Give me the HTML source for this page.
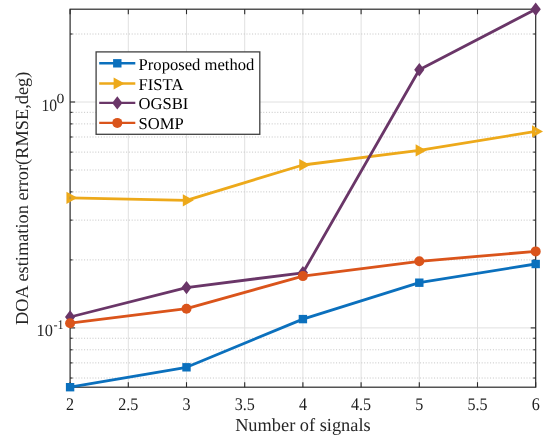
<!DOCTYPE html>
<html><head><meta charset="utf-8"><title>plot</title>
<style>html,body{margin:0;padding:0;background:#fff}body{width:550px;height:444px;overflow:hidden}text{text-rendering:geometricPrecision}</style>
</head><body>
<svg width="550" height="444" viewBox="0 0 550 444" style="display:block">
<rect width="550" height="444" fill="#fff"/>
<line x1="128.30" y1="9.2" x2="128.30" y2="387.2" stroke="#e0e0e0" stroke-width="1"/>
<line x1="186.50" y1="9.2" x2="186.50" y2="387.2" stroke="#e0e0e0" stroke-width="1"/>
<line x1="244.70" y1="9.2" x2="244.70" y2="387.2" stroke="#e0e0e0" stroke-width="1"/>
<line x1="302.90" y1="9.2" x2="302.90" y2="387.2" stroke="#e0e0e0" stroke-width="1"/>
<line x1="361.10" y1="9.2" x2="361.10" y2="387.2" stroke="#e0e0e0" stroke-width="1"/>
<line x1="419.30" y1="9.2" x2="419.30" y2="387.2" stroke="#e0e0e0" stroke-width="1"/>
<line x1="477.50" y1="9.2" x2="477.50" y2="387.2" stroke="#e0e0e0" stroke-width="1"/>
<line x1="70.1" y1="102.00" x2="535.7" y2="102.00" stroke="#e0e0e0" stroke-width="1"/>
<line x1="70.1" y1="327.90" x2="535.7" y2="327.90" stroke="#e0e0e0" stroke-width="1"/>
<line x1="70.1" y1="34.00" x2="535.7" y2="34.00" stroke="#c4c4c4" stroke-width="1" stroke-dasharray="1 1.8"/>
<line x1="70.1" y1="259.90" x2="535.7" y2="259.90" stroke="#c4c4c4" stroke-width="1" stroke-dasharray="1 1.8"/>
<line x1="70.1" y1="220.12" x2="535.7" y2="220.12" stroke="#c4c4c4" stroke-width="1" stroke-dasharray="1 1.8"/>
<line x1="70.1" y1="191.89" x2="535.7" y2="191.89" stroke="#c4c4c4" stroke-width="1" stroke-dasharray="1 1.8"/>
<line x1="70.1" y1="170.00" x2="535.7" y2="170.00" stroke="#c4c4c4" stroke-width="1" stroke-dasharray="1 1.8"/>
<line x1="70.1" y1="152.12" x2="535.7" y2="152.12" stroke="#c4c4c4" stroke-width="1" stroke-dasharray="1 1.8"/>
<line x1="70.1" y1="136.99" x2="535.7" y2="136.99" stroke="#c4c4c4" stroke-width="1" stroke-dasharray="1 1.8"/>
<line x1="70.1" y1="123.89" x2="535.7" y2="123.89" stroke="#c4c4c4" stroke-width="1" stroke-dasharray="1 1.8"/>
<line x1="70.1" y1="112.34" x2="535.7" y2="112.34" stroke="#c4c4c4" stroke-width="1" stroke-dasharray="1 1.8"/>
<line x1="70.1" y1="378.02" x2="535.7" y2="378.02" stroke="#c4c4c4" stroke-width="1" stroke-dasharray="1 1.8"/>
<line x1="70.1" y1="362.89" x2="535.7" y2="362.89" stroke="#c4c4c4" stroke-width="1" stroke-dasharray="1 1.8"/>
<line x1="70.1" y1="349.79" x2="535.7" y2="349.79" stroke="#c4c4c4" stroke-width="1" stroke-dasharray="1 1.8"/>
<line x1="70.1" y1="338.24" x2="535.7" y2="338.24" stroke="#c4c4c4" stroke-width="1" stroke-dasharray="1 1.8"/>
<rect x="70.1" y="9.2" width="465.60" height="378.00" fill="none" stroke="#2a2a2a" stroke-width="1.2"/>
<line x1="70.10" y1="387.2" x2="70.10" y2="382.2" stroke="#2a2a2a" stroke-width="1.1"/>
<line x1="70.10" y1="9.2" x2="70.10" y2="14.2" stroke="#2a2a2a" stroke-width="1.1"/>
<line x1="128.30" y1="387.2" x2="128.30" y2="382.2" stroke="#2a2a2a" stroke-width="1.1"/>
<line x1="128.30" y1="9.2" x2="128.30" y2="14.2" stroke="#2a2a2a" stroke-width="1.1"/>
<line x1="186.50" y1="387.2" x2="186.50" y2="382.2" stroke="#2a2a2a" stroke-width="1.1"/>
<line x1="186.50" y1="9.2" x2="186.50" y2="14.2" stroke="#2a2a2a" stroke-width="1.1"/>
<line x1="244.70" y1="387.2" x2="244.70" y2="382.2" stroke="#2a2a2a" stroke-width="1.1"/>
<line x1="244.70" y1="9.2" x2="244.70" y2="14.2" stroke="#2a2a2a" stroke-width="1.1"/>
<line x1="302.90" y1="387.2" x2="302.90" y2="382.2" stroke="#2a2a2a" stroke-width="1.1"/>
<line x1="302.90" y1="9.2" x2="302.90" y2="14.2" stroke="#2a2a2a" stroke-width="1.1"/>
<line x1="361.10" y1="387.2" x2="361.10" y2="382.2" stroke="#2a2a2a" stroke-width="1.1"/>
<line x1="361.10" y1="9.2" x2="361.10" y2="14.2" stroke="#2a2a2a" stroke-width="1.1"/>
<line x1="419.30" y1="387.2" x2="419.30" y2="382.2" stroke="#2a2a2a" stroke-width="1.1"/>
<line x1="419.30" y1="9.2" x2="419.30" y2="14.2" stroke="#2a2a2a" stroke-width="1.1"/>
<line x1="477.50" y1="387.2" x2="477.50" y2="382.2" stroke="#2a2a2a" stroke-width="1.1"/>
<line x1="477.50" y1="9.2" x2="477.50" y2="14.2" stroke="#2a2a2a" stroke-width="1.1"/>
<line x1="535.70" y1="387.2" x2="535.70" y2="382.2" stroke="#2a2a2a" stroke-width="1.1"/>
<line x1="535.70" y1="9.2" x2="535.70" y2="14.2" stroke="#2a2a2a" stroke-width="1.1"/>
<line x1="70.1" y1="102.00" x2="75.1" y2="102.00" stroke="#2a2a2a" stroke-width="1.1"/>
<line x1="535.7" y1="102.00" x2="530.7" y2="102.00" stroke="#2a2a2a" stroke-width="1.1"/>
<line x1="70.1" y1="327.90" x2="75.1" y2="327.90" stroke="#2a2a2a" stroke-width="1.1"/>
<line x1="535.7" y1="327.90" x2="530.7" y2="327.90" stroke="#2a2a2a" stroke-width="1.1"/>
<line x1="70.1" y1="34.00" x2="72.6" y2="34.00" stroke="#2a2a2a" stroke-width="1.1"/>
<line x1="535.7" y1="34.00" x2="533.2" y2="34.00" stroke="#2a2a2a" stroke-width="1.1"/>
<line x1="70.1" y1="259.90" x2="72.6" y2="259.90" stroke="#2a2a2a" stroke-width="1.1"/>
<line x1="535.7" y1="259.90" x2="533.2" y2="259.90" stroke="#2a2a2a" stroke-width="1.1"/>
<line x1="70.1" y1="220.12" x2="72.6" y2="220.12" stroke="#2a2a2a" stroke-width="1.1"/>
<line x1="535.7" y1="220.12" x2="533.2" y2="220.12" stroke="#2a2a2a" stroke-width="1.1"/>
<line x1="70.1" y1="191.89" x2="72.6" y2="191.89" stroke="#2a2a2a" stroke-width="1.1"/>
<line x1="535.7" y1="191.89" x2="533.2" y2="191.89" stroke="#2a2a2a" stroke-width="1.1"/>
<line x1="70.1" y1="170.00" x2="72.6" y2="170.00" stroke="#2a2a2a" stroke-width="1.1"/>
<line x1="535.7" y1="170.00" x2="533.2" y2="170.00" stroke="#2a2a2a" stroke-width="1.1"/>
<line x1="70.1" y1="152.12" x2="72.6" y2="152.12" stroke="#2a2a2a" stroke-width="1.1"/>
<line x1="535.7" y1="152.12" x2="533.2" y2="152.12" stroke="#2a2a2a" stroke-width="1.1"/>
<line x1="70.1" y1="136.99" x2="72.6" y2="136.99" stroke="#2a2a2a" stroke-width="1.1"/>
<line x1="535.7" y1="136.99" x2="533.2" y2="136.99" stroke="#2a2a2a" stroke-width="1.1"/>
<line x1="70.1" y1="123.89" x2="72.6" y2="123.89" stroke="#2a2a2a" stroke-width="1.1"/>
<line x1="535.7" y1="123.89" x2="533.2" y2="123.89" stroke="#2a2a2a" stroke-width="1.1"/>
<line x1="70.1" y1="112.34" x2="72.6" y2="112.34" stroke="#2a2a2a" stroke-width="1.1"/>
<line x1="535.7" y1="112.34" x2="533.2" y2="112.34" stroke="#2a2a2a" stroke-width="1.1"/>
<line x1="70.1" y1="378.02" x2="72.6" y2="378.02" stroke="#2a2a2a" stroke-width="1.1"/>
<line x1="535.7" y1="378.02" x2="533.2" y2="378.02" stroke="#2a2a2a" stroke-width="1.1"/>
<line x1="70.1" y1="362.89" x2="72.6" y2="362.89" stroke="#2a2a2a" stroke-width="1.1"/>
<line x1="535.7" y1="362.89" x2="533.2" y2="362.89" stroke="#2a2a2a" stroke-width="1.1"/>
<line x1="70.1" y1="349.79" x2="72.6" y2="349.79" stroke="#2a2a2a" stroke-width="1.1"/>
<line x1="535.7" y1="349.79" x2="533.2" y2="349.79" stroke="#2a2a2a" stroke-width="1.1"/>
<line x1="70.1" y1="338.24" x2="72.6" y2="338.24" stroke="#2a2a2a" stroke-width="1.1"/>
<line x1="535.7" y1="338.24" x2="533.2" y2="338.24" stroke="#2a2a2a" stroke-width="1.1"/>
<polyline points="70.10,387.20 186.50,367.30 302.90,319.10 419.30,282.70 535.70,264.00" fill="none" stroke="#0b70bd" stroke-width="2.8" stroke-linejoin="round"/>
<rect x="65.90" y="383.00" width="8.4" height="8.4" fill="#0b70bd"/>
<rect x="182.30" y="363.10" width="8.4" height="8.4" fill="#0b70bd"/>
<rect x="298.70" y="314.90" width="8.4" height="8.4" fill="#0b70bd"/>
<rect x="415.10" y="278.50" width="8.4" height="8.4" fill="#0b70bd"/>
<rect x="531.50" y="259.80" width="8.4" height="8.4" fill="#0b70bd"/>
<polyline points="70.10,197.80 186.50,200.30 302.90,165.00 419.30,150.40 535.70,131.40" fill="none" stroke="#eda91a" stroke-width="2.8" stroke-linejoin="round"/>
<polygon points="66.43,191.70 77.43,197.80 66.43,203.90" fill="#eda91a"/>
<polygon points="182.83,194.20 193.83,200.30 182.83,206.40" fill="#eda91a"/>
<polygon points="299.23,158.90 310.23,165.00 299.23,171.10" fill="#eda91a"/>
<polygon points="415.63,144.30 426.63,150.40 415.63,156.50" fill="#eda91a"/>
<polygon points="532.03,125.30 543.03,131.40 532.03,137.50" fill="#eda91a"/>
<rect x="69.6" y="196.6" width="1" height="2.6" fill="#9a8a60"/>
<rect x="535.2" y="130.6" width="1" height="1.6" fill="#c8c0a8"/>
<polyline points="70.10,317.00 186.50,287.60 302.90,272.80 419.30,69.80 535.70,9.20" fill="none" stroke="#6a3668" stroke-width="2.8" stroke-linejoin="round"/>
<polygon points="70.10,310.30 75.20,317.00 70.10,323.70 65.00,317.00" fill="#6a3668"/>
<polygon points="186.50,280.90 191.60,287.60 186.50,294.30 181.40,287.60" fill="#6a3668"/>
<polygon points="302.90,266.10 308.00,272.80 302.90,279.50 297.80,272.80" fill="#6a3668"/>
<polygon points="419.30,63.10 424.40,69.80 419.30,76.50 414.20,69.80" fill="#6a3668"/>
<polygon points="535.70,2.50 540.80,9.20 535.70,15.90 530.60,9.20" fill="#6a3668"/>
<polyline points="70.10,323.20 186.50,308.70 302.90,276.10 419.30,261.30 535.70,251.40" fill="none" stroke="#da541b" stroke-width="2.8" stroke-linejoin="round"/>
<circle cx="70.10" cy="323.20" r="5.0" fill="#da541b"/>
<circle cx="186.50" cy="308.70" r="5.0" fill="#da541b"/>
<circle cx="302.90" cy="276.10" r="5.0" fill="#da541b"/>
<circle cx="419.30" cy="261.30" r="5.0" fill="#da541b"/>
<circle cx="535.70" cy="251.40" r="5.0" fill="#da541b"/>
<rect x="96.1" y="51.9" width="163.70" height="82.40" fill="#fff" stroke="#404040" stroke-width="1.3"/>
<line x1="99.2" y1="63.3" x2="135.3" y2="63.3" stroke="#0b70bd" stroke-width="2.4"/>
<rect x="113.10" y="59.10" width="8.4" height="8.4" fill="#0b70bd"/>
<text x="138.6" y="69.60" font-family="Liberation Serif, Times New Roman, serif" font-size="16.6" fill="#000">Proposed method</text>
<line x1="99.2" y1="83.5" x2="135.3" y2="83.5" stroke="#eda91a" stroke-width="2.4"/>
<polygon points="113.63,77.40 124.63,83.50 113.63,89.60" fill="#eda91a"/>
<text x="138.6" y="89.80" font-family="Liberation Serif, Times New Roman, serif" font-size="16.6" fill="#000">FISTA</text>
<line x1="99.2" y1="102.9" x2="135.3" y2="102.9" stroke="#6a3668" stroke-width="2.4"/>
<polygon points="117.30,96.20 122.40,102.90 117.30,109.60 112.20,102.90" fill="#6a3668"/>
<text x="138.6" y="109.20" font-family="Liberation Serif, Times New Roman, serif" font-size="16.6" fill="#000">OGSBI</text>
<line x1="99.2" y1="122.9" x2="135.3" y2="122.9" stroke="#da541b" stroke-width="2.4"/>
<circle cx="117.30" cy="122.90" r="5.0" fill="#da541b"/>
<text x="138.6" y="129.20" font-family="Liberation Serif, Times New Roman, serif" font-size="16.6" fill="#000">SOMP</text>
<text transform="translate(70.10,409.6) scale(0.97,1.07)" text-anchor="middle" font-family="Liberation Serif, Times New Roman, serif" font-size="16.6" fill="#1c1c1c">2</text>
<text transform="translate(128.30,409.6) scale(0.97,1.07)" text-anchor="middle" font-family="Liberation Serif, Times New Roman, serif" font-size="16.6" fill="#1c1c1c">2.5</text>
<text transform="translate(186.50,409.6) scale(0.97,1.07)" text-anchor="middle" font-family="Liberation Serif, Times New Roman, serif" font-size="16.6" fill="#1c1c1c">3</text>
<text transform="translate(244.70,409.6) scale(0.97,1.07)" text-anchor="middle" font-family="Liberation Serif, Times New Roman, serif" font-size="16.6" fill="#1c1c1c">3.5</text>
<text transform="translate(302.90,409.6) scale(0.97,1.07)" text-anchor="middle" font-family="Liberation Serif, Times New Roman, serif" font-size="16.6" fill="#1c1c1c">4</text>
<text transform="translate(361.10,409.6) scale(0.97,1.07)" text-anchor="middle" font-family="Liberation Serif, Times New Roman, serif" font-size="16.6" fill="#1c1c1c">4.5</text>
<text transform="translate(419.30,409.6) scale(0.97,1.07)" text-anchor="middle" font-family="Liberation Serif, Times New Roman, serif" font-size="16.6" fill="#1c1c1c">5</text>
<text transform="translate(477.50,409.6) scale(0.97,1.07)" text-anchor="middle" font-family="Liberation Serif, Times New Roman, serif" font-size="16.6" fill="#1c1c1c">5.5</text>
<text transform="translate(535.70,409.6) scale(0.97,1.07)" text-anchor="middle" font-family="Liberation Serif, Times New Roman, serif" font-size="16.6" fill="#1c1c1c">6</text>
<text x="302.9" y="430.9" text-anchor="middle" font-family="Liberation Serif, Times New Roman, serif" font-size="18.35" fill="#262626">Number of signals</text>
<text transform="translate(27.8,198.3) rotate(-90)" text-anchor="middle" font-family="Liberation Serif, Times New Roman, serif" font-size="18.35" fill="#262626">DOA estimation error(RMSE,deg)</text>
<text transform="translate(41.5,111.1) scale(0.89,0.975)" font-family="Liberation Serif, Times New Roman, serif" font-size="17.6" fill="#262626">10</text>
<text transform="translate(56.6,102.89999999999999) scale(1.13,1)" font-family="Liberation Serif, Times New Roman, serif" font-size="13.9" fill="#262626">0</text>
<text transform="translate(36.5,336.4) scale(0.93,0.97)" font-family="Liberation Serif, Times New Roman, serif" font-size="17.6" fill="#262626">10</text>
<text transform="translate(53.5,329.0) scale(0.92,1)" font-family="Liberation Serif, Times New Roman, serif" font-size="13.3" fill="#262626">-1</text>
</svg>
</body></html>
